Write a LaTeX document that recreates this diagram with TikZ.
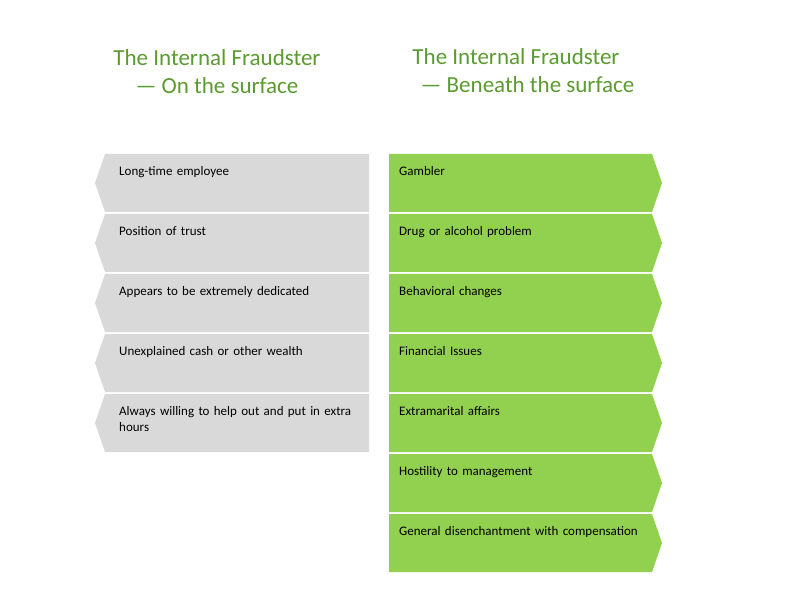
\documentclass[tikz,border=0pt]{standalone}
\usepackage{fontspec}
\setmainfont{Carlito}
\definecolor{gbox}{HTML}{D9D9D9}
\definecolor{grn}{HTML}{92D050}
\definecolor{ttl}{HTML}{5B9B2F}
\begin{document}
\begin{tikzpicture}[x=1pt,y=-1pt,
  lab/.style={anchor=north west,font=\fontsize{13}{16}\selectfont,text width=245pt,align=left,inner sep=0pt},
  ttlst/.style={font=\fontsize{23}{28}\selectfont,text=ttl,align=center}]
\useasboundingbox (0,0) rectangle (792,612);
\foreach \t [count=\i] in {Long-time employee,Position of trust,Appears to be extremely dedicated,Unexplained cash or other wealth,{Always willing to help out and put in extra hours}}{
  \pgfmathsetmacro\yy{154+60*(\i-1)}
  \fill[gbox] (105,\yy) -- (369,\yy) -- (369,\yy+58) -- (105,\yy+58) -- (95,\yy+29) -- cycle;
  \node[lab] (l\i) at (119,\yy+12) {\t};
}
\foreach \t [count=\i] in {Gambler,Drug or alcohol problem,Behavioral changes,Financial Issues,Extramarital affairs,Hostility to management,{General disenchantment with compensation}}{
  \pgfmathsetmacro\yy{154+60*(\i-1)}
  \fill[grn] (389,\yy) -- (652,\yy) -- (662,\yy+29) -- (652,\yy+58) -- (389,\yy+58) -- cycle;
  \node[lab] (r\i) at (399,\yy+12) {\t};
}
\node[ttlst] (t1) at (217,72) {The Internal Fraudster\\— On the surface};
\node[ttlst] (t2) at (516,71) {The Internal Fraudster\\\quad— Beneath the surface};
\end{tikzpicture}
\end{document}
